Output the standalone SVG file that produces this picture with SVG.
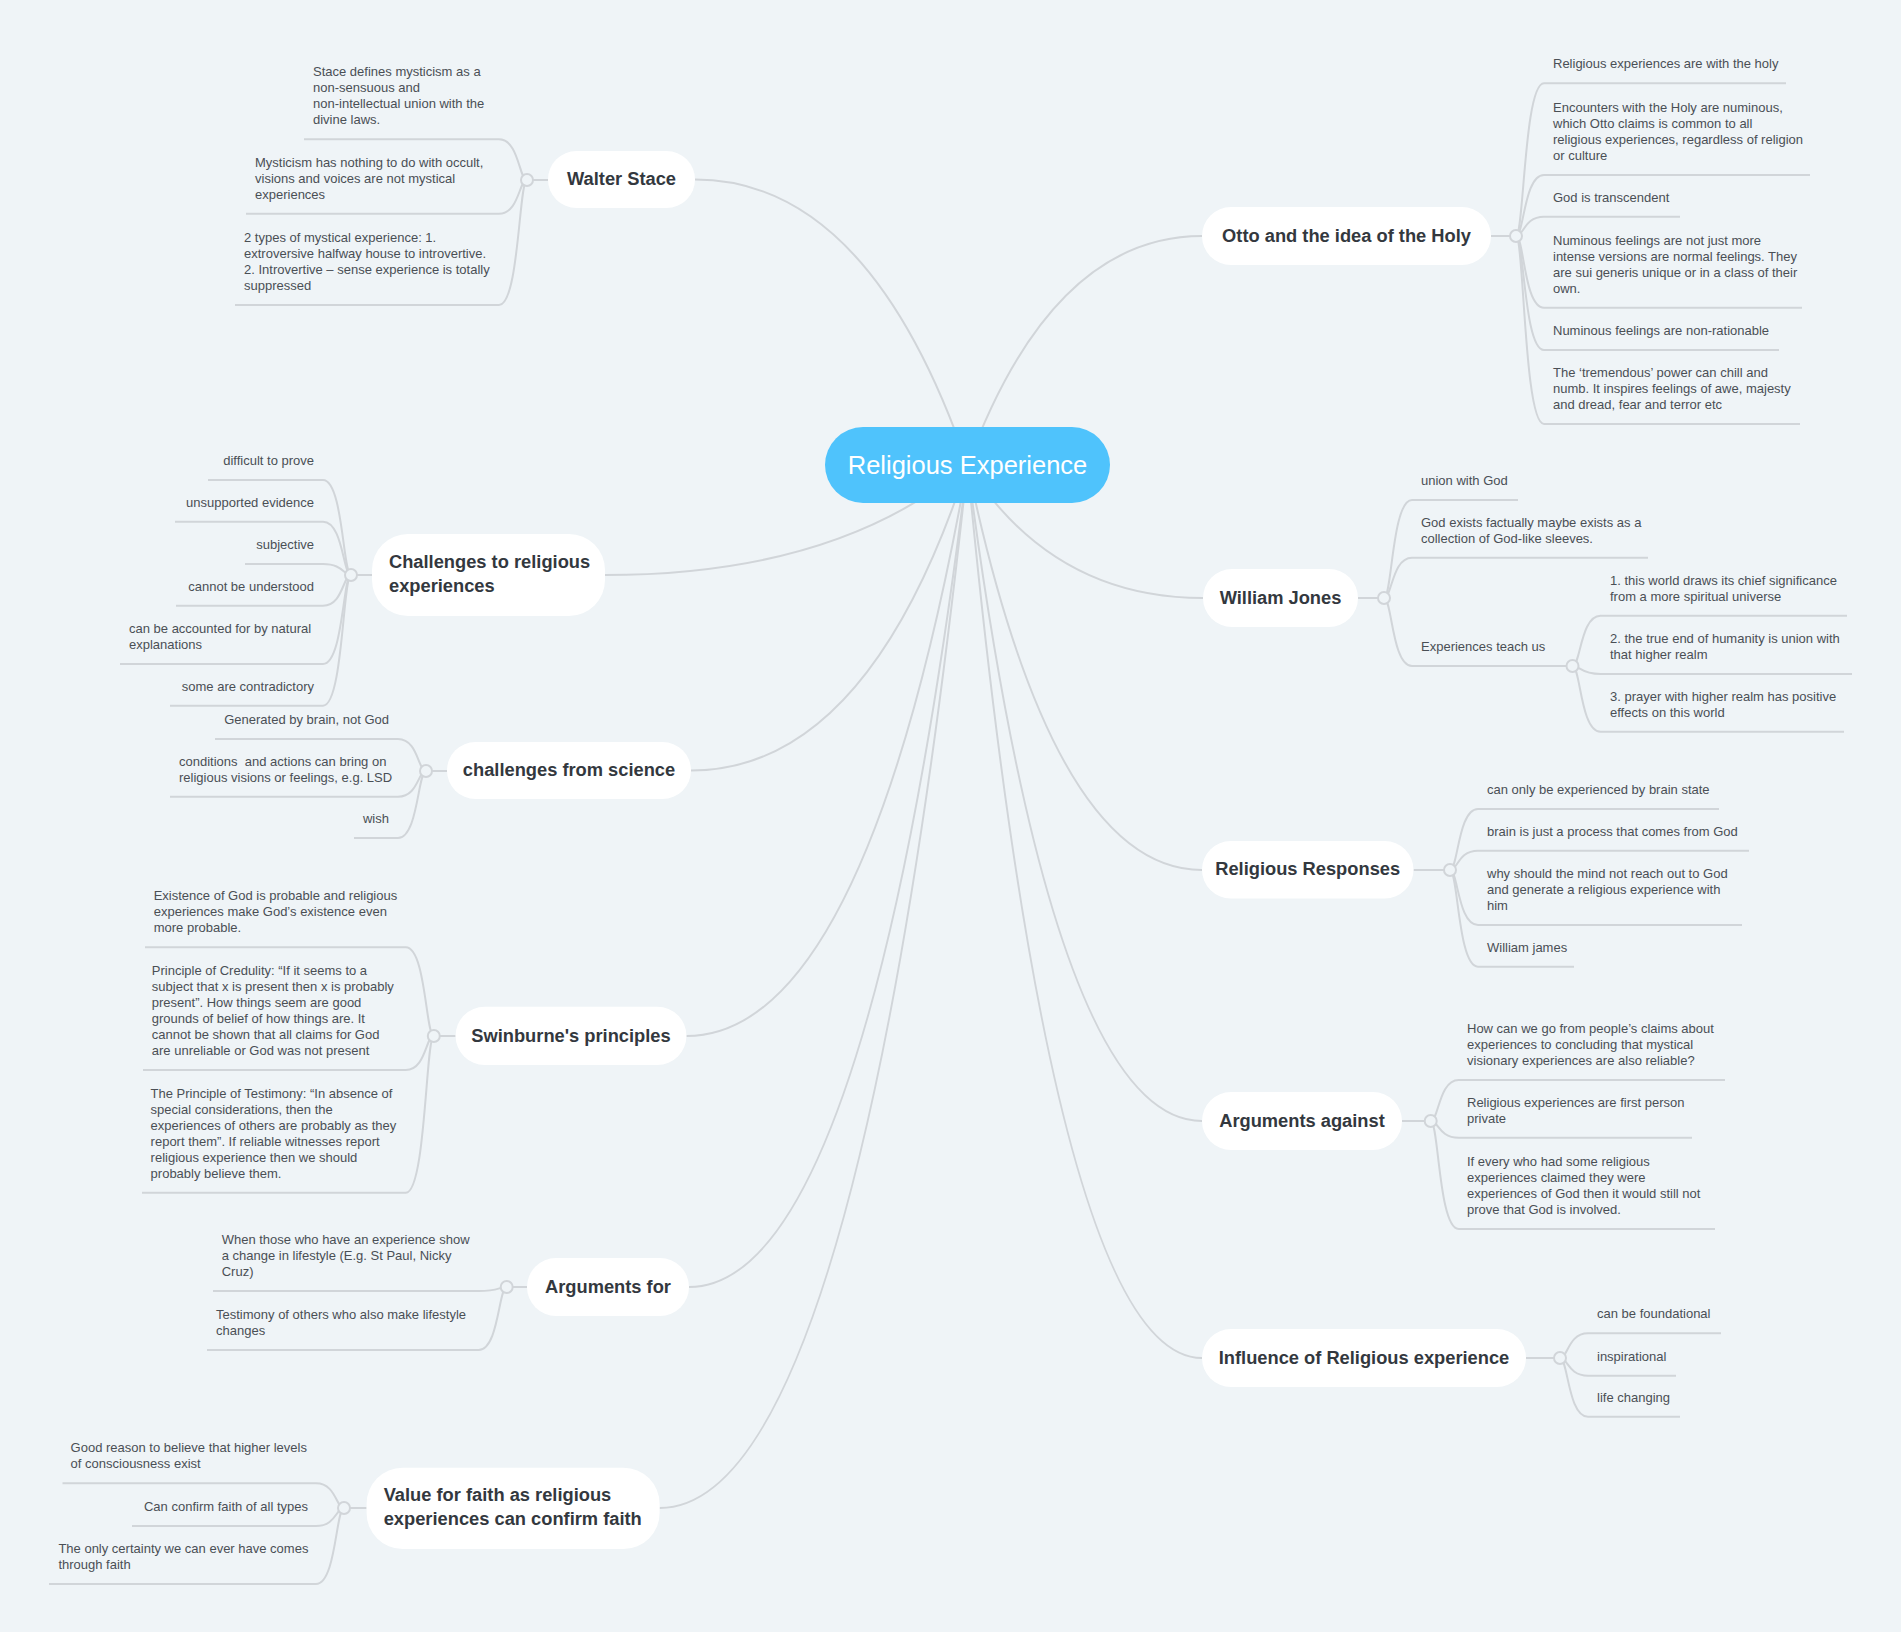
<svg xmlns="http://www.w3.org/2000/svg" width="1901" height="1632" viewBox="0 0 1901 1632">
<style>
.ln{fill:none;stroke:#D1D5D9;stroke-width:2}
.jn{fill:#EFF4F7;stroke:#D1D5D9;stroke-width:2}
.nd{fill:#FFFFFF}
.nt{font-family:"Liberation Sans",Arial,sans-serif;font-weight:700;font-size:18.3px;fill:#33383E;transform:translateY(-1px)}
.ct{font-family:"Liberation Sans",Arial,sans-serif;font-size:13px;fill:#4A4F55;transform:translateY(-0.8px)}
.r{text-anchor:end}
.m{text-anchor:middle}
</style>
<rect width="1901" height="1632" fill="#EFF4F7"/>
<g id="connectors">
<path class="ln" d="M967.5,465 Q869.4,179.5 695,179.5"/>
<path class="ln" d="M967.5,465 Q1051.9,236 1202,236"/>
<path class="ln" d="M967.5,465 Q837,575 605,575"/>
<path class="ln" d="M967.5,465 Q868,770.5 691,770.5"/>
<path class="ln" d="M967.5,465 Q1052.3,598 1203,598"/>
<path class="ln" d="M967.5,465 Q1051.9,870 1202,870"/>
<path class="ln" d="M967.5,465 Q866.3,1036 686.4,1036"/>
<path class="ln" d="M967.5,465 Q1051.9,1121 1202,1121"/>
<path class="ln" d="M967.5,465 Q867.2,1287 689,1287"/>
<path class="ln" d="M967.5,465 Q1051.9,1358 1202,1358"/>
<path class="ln" d="M967.5,465 Q856.7,1508 659.6,1508"/>
<path class="ln" d="M548,180 H527"/>
<path class="ln" d="M1491,236 H1516"/>
<path class="ln" d="M372,575 H351"/>
<path class="ln" d="M447,771 H426"/>
<path class="ln" d="M1358,598 H1384"/>
<path class="ln" d="M1413.5,870 H1450"/>
<path class="ln" d="M455.6,1036 H433.8"/>
<path class="ln" d="M1402,1121 H1430.7"/>
<path class="ln" d="M527,1287 H506.7"/>
<path class="ln" d="M1526,1358 H1560"/>
<path class="ln" d="M366.6,1508 H344"/>
<path class="ln" d="M527,180 C519,180 519,139.3 499,139.3 H304"/>
<path class="ln" d="M527,180 C519,180 519,213.7 499,213.7 H246"/>
<path class="ln" d="M527,180 C519,180 519,305 499,305 H235"/>
<path class="ln" d="M1516,236 C1524,236 1524,83.3 1544,83.3 H1786"/>
<path class="ln" d="M1516,236 C1524,236 1524,175 1544,175 H1810"/>
<path class="ln" d="M1516,236 C1524,236 1524,216.7 1544,216.7 H1680"/>
<path class="ln" d="M1516,236 C1524,236 1524,307.7 1544,307.7 H1802"/>
<path class="ln" d="M1516,236 C1524,236 1524,350 1544,350 H1779"/>
<path class="ln" d="M1516,236 C1524,236 1524,424 1544,424 H1800"/>
<path class="ln" d="M351,575 C343,575 343,480 323,480 H208"/>
<path class="ln" d="M351,575 C343,575 343,521.7 323,521.7 H175"/>
<path class="ln" d="M351,575 C343,575 343,564 323,564 H245"/>
<path class="ln" d="M351,575 C343,575 343,605.7 323,605.7 H176"/>
<path class="ln" d="M351,575 C343,575 343,664 323,664 H120"/>
<path class="ln" d="M351,575 C343,575 343,705.7 323,705.7 H170"/>
<path class="ln" d="M426,771 C418,771 418,739 398,739 H215"/>
<path class="ln" d="M426,771 C418,771 418,796.7 398,796.7 H170"/>
<path class="ln" d="M426,771 C418,771 418,838 398,838 H354"/>
<path class="ln" d="M1384,598 C1392,598 1392,500 1412,500 H1518"/>
<path class="ln" d="M1384,598 C1392,598 1392,557.7 1412,557.7 H1648"/>
<path class="ln" d="M1384,598 C1392,598 1392,666 1412,666 H1572.5"/>
<path class="ln" d="M1572.5,666 C1580.5,666 1580.5,615.7 1600.5,615.7 H1847"/>
<path class="ln" d="M1572.5,666 C1580.5,666 1580.5,674 1600.5,674 H1852"/>
<path class="ln" d="M1572.5,666 C1580.5,666 1580.5,731.7 1600.5,731.7 H1844"/>
<path class="ln" d="M1450,870 C1458,870 1458,809 1478,809 H1719"/>
<path class="ln" d="M1450,870 C1458,870 1458,850.7 1478,850.7 H1749"/>
<path class="ln" d="M1450,870 C1458,870 1458,925 1478,925 H1742"/>
<path class="ln" d="M1450,870 C1458,870 1458,966.7 1478,966.7 H1574"/>
<path class="ln" d="M433.8,1036 C425.8,1036 425.8,947.3 405.8,947.3 H145"/>
<path class="ln" d="M433.8,1036 C425.8,1036 425.8,1070 405.8,1070 H143"/>
<path class="ln" d="M433.8,1036 C425.8,1036 425.8,1192.7 405.8,1192.7 H142"/>
<path class="ln" d="M1430.7,1121 C1438.7,1121 1438.7,1080 1458.7,1080 H1725"/>
<path class="ln" d="M1430.7,1121 C1438.7,1121 1438.7,1137.7 1458.7,1137.7 H1692"/>
<path class="ln" d="M1430.7,1121 C1438.7,1121 1438.7,1229 1458.7,1229 H1715"/>
<path class="ln" d="M506.7,1287 C498.7,1287 498.7,1291 478.7,1291 H213"/>
<path class="ln" d="M506.7,1287 C498.7,1287 498.7,1350 478.7,1350 H207"/>
<path class="ln" d="M1560,1358 C1568,1358 1568,1333.3 1588,1333.3 H1721"/>
<path class="ln" d="M1560,1358 C1568,1358 1568,1375.7 1588,1375.7 H1676"/>
<path class="ln" d="M1560,1358 C1568,1358 1568,1416.7 1588,1416.7 H1680"/>
<path class="ln" d="M344,1508 C336,1508 336,1483.3 316,1483.3 H62.5"/>
<path class="ln" d="M344,1508 C336,1508 336,1526 316,1526 H132"/>
<path class="ln" d="M344,1508 C336,1508 336,1584 316,1584 H49"/>
<circle class="jn" cx="527" cy="180" r="6"/>
<circle class="jn" cx="1516" cy="236" r="6"/>
<circle class="jn" cx="351" cy="575" r="6"/>
<circle class="jn" cx="426" cy="771" r="6"/>
<circle class="jn" cx="1384" cy="598" r="6"/>
<circle class="jn" cx="1572.5" cy="666" r="6"/>
<circle class="jn" cx="1450" cy="870" r="6"/>
<circle class="jn" cx="433.8" cy="1036" r="6"/>
<circle class="jn" cx="1430.7" cy="1121" r="6"/>
<circle class="jn" cx="506.7" cy="1287" r="6"/>
<circle class="jn" cx="1560" cy="1358" r="6"/>
<circle class="jn" cx="344" cy="1508" r="6"/>
</g>
<g id="root">
<rect x="825" y="427" width="285" height="76" rx="38" fill="#4FC3FC"/>
<text x="967.5" y="474" class="m" font-family="Liberation Sans, Arial, sans-serif" font-size="25.5" fill="#FFFFFF">Religious Experience</text>
</g>
<g id="walter-stace">
<rect class="nd" x="548" y="151" width="147" height="57" rx="28.5"/>
<text class="nt m" x="621.5" y="186">Walter Stace</text>
</g>
<g id="walter-stace-children">
<text class="ct" y="77.3"><tspan x="313">Stace defines mysticism as a</tspan><tspan x="313" dy="16">non-sensuous and</tspan><tspan x="313" dy="16">non-intellectual union with the</tspan><tspan x="313" dy="16">divine laws.</tspan></text>
<text class="ct" y="167.7"><tspan x="255">Mysticism has nothing to do with occult,</tspan><tspan x="255" dy="16">visions and voices are not mystical</tspan><tspan x="255" dy="16">experiences</tspan></text>
<text class="ct" y="243"><tspan x="244">2 types of mystical experience: 1.</tspan><tspan x="244" dy="16">extroversive halfway house to introvertive.</tspan><tspan x="244" dy="16">2. Introvertive – sense experience is totally</tspan><tspan x="244" dy="16">suppressed</tspan></text>
</g>
<g id="otto">
<rect class="nd" x="1202" y="207" width="289" height="58" rx="29"/>
<text class="nt m" x="1346.5" y="242.5">Otto and the idea of the Holy</text>
</g>
<g id="otto-children">
<text class="ct" x="1553" y="69.3">Religious experiences are with the holy</text>
<text class="ct" y="113"><tspan x="1553">Encounters with the Holy are numinous,</tspan><tspan x="1553" dy="16">which Otto claims is common to all</tspan><tspan x="1553" dy="16">religious experiences, regardless of religion</tspan><tspan x="1553" dy="16">or culture</tspan></text>
<text class="ct" x="1553" y="202.7">God is transcendent</text>
<text class="ct" y="245.7"><tspan x="1553">Numinous feelings are not just more</tspan><tspan x="1553" dy="16">intense versions are normal feelings. They</tspan><tspan x="1553" dy="16">are sui generis unique or in a class of their</tspan><tspan x="1553" dy="16">own.</tspan></text>
<text class="ct" x="1553" y="336">Numinous feelings are non-rationable</text>
<text class="ct" y="378"><tspan x="1553">The ‘tremendous’ power can chill and</tspan><tspan x="1553" dy="16">numb. It inspires feelings of awe, majesty</tspan><tspan x="1553" dy="16">and dread, fear and terror etc</tspan></text>
</g>
<g id="challenges">
<rect class="nd" x="372" y="534" width="233" height="82" rx="36"/>
<text class="nt" y="569"><tspan x="389">Challenges to religious</tspan><tspan x="389" dy="24">experiences</tspan></text>
</g>
<g id="challenges-children">
<text class="ct r" x="314" y="466">difficult to prove</text>
<text class="ct r" x="314" y="507.7">unsupported evidence</text>
<text class="ct r" x="314" y="550">subjective</text>
<text class="ct r" x="314" y="591.7">cannot be understood</text>
<text class="ct" y="634"><tspan x="129">can be accounted for by natural</tspan><tspan x="129" dy="16">explanations</tspan></text>
<text class="ct r" x="314" y="691.7">some are contradictory</text>
</g>
<g id="science">
<rect class="nd" x="447" y="742" width="244" height="57" rx="28.5"/>
<text class="nt m" x="569" y="777">challenges from science</text>
</g>
<g id="science-children">
<text class="ct r" x="389" y="725">Generated by brain, not God</text>
<text class="ct" y="766.7" xml:space="preserve"><tspan x="179">conditions  and actions can bring on</tspan><tspan x="179" dy="16">religious visions or feelings, e.g. LSD</tspan></text>
<text class="ct r" x="389" y="824">wish</text>
</g>
<g id="william-jones">
<rect class="nd" x="1203" y="569" width="155" height="58" rx="29"/>
<text class="nt m" x="1280.5" y="604.5">William Jones</text>
</g>
<g id="william-jones-children">
<text class="ct" x="1421" y="486">union with God</text>
<text class="ct" y="527.7"><tspan x="1421">God exists factually maybe exists as a</tspan><tspan x="1421" dy="16">collection of God-like sleeves.</tspan></text>
<text class="ct" x="1421" y="652">Experiences teach us</text>
<text class="ct" y="585.7"><tspan x="1610">1. this world draws its chief significance</tspan><tspan x="1610" dy="16">from a more spiritual universe</tspan></text>
<text class="ct" y="644"><tspan x="1610">2. the true end of humanity is union with</tspan><tspan x="1610" dy="16">that higher realm</tspan></text>
<text class="ct" y="701.7"><tspan x="1610">3. prayer with higher realm has positive</tspan><tspan x="1610" dy="16">effects on this world</tspan></text>
</g>
<g id="religious-responses">
<rect class="nd" x="1202" y="841" width="211.5" height="57.5" rx="28.7"/>
<text class="nt m" x="1307.7" y="876.2">Religious Responses</text>
</g>
<g id="religious-responses-children">
<text class="ct" x="1487" y="795">can only be experienced by brain state</text>
<text class="ct" x="1487" y="836.7">brain is just a process that comes from God</text>
<text class="ct" y="879"><tspan x="1487">why should the mind not reach out to God</tspan><tspan x="1487" dy="16">and generate a religious experience with</tspan><tspan x="1487" dy="16">him</tspan></text>
<text class="ct" x="1487" y="952.7">William james</text>
</g>
<g id="swinburne">
<rect class="nd" x="455.6" y="1006.7" width="230.8" height="58.3" rx="29"/>
<text class="nt m" x="571" y="1042.5">Swinburne's principles</text>
</g>
<g id="swinburne-children">
<text class="ct" y="901.3"><tspan x="153.7">Existence of God is probable and religious</tspan><tspan x="153.7" dy="16">experiences make God’s existence even</tspan><tspan x="153.7" dy="16">more probable.</tspan></text>
<text class="ct" y="976"><tspan x="151.8">Principle of Credulity: “If it seems to a</tspan><tspan x="151.8" dy="16">subject that x is present then x is probably</tspan><tspan x="151.8" dy="16">present”. How things seem are good</tspan><tspan x="151.8" dy="16">grounds of belief of how things are. It</tspan><tspan x="151.8" dy="16">cannot be shown that all claims for God</tspan><tspan x="151.8" dy="16">are unreliable or God was not present</tspan></text>
<text class="ct" y="1098.7"><tspan x="150.6">The Principle of Testimony: “In absence of</tspan><tspan x="150.6" dy="16">special considerations, then the</tspan><tspan x="150.6" dy="16">experiences of others are probably as they</tspan><tspan x="150.6" dy="16">report them”. If reliable witnesses report</tspan><tspan x="150.6" dy="16">religious experience then we should</tspan><tspan x="150.6" dy="16">probably believe them.</tspan></text>
</g>
<g id="arguments-against">
<rect class="nd" x="1202" y="1092" width="200" height="58" rx="29"/>
<text class="nt m" x="1302" y="1127.5">Arguments against</text>
</g>
<g id="arguments-against-children">
<text class="ct" y="1034"><tspan x="1467">How can we go from people’s claims about</tspan><tspan x="1467" dy="16">experiences to concluding that mystical</tspan><tspan x="1467" dy="16">visionary experiences are also reliable?</tspan></text>
<text class="ct" y="1107.7"><tspan x="1467">Religious experiences are first person</tspan><tspan x="1467" dy="16">private</tspan></text>
<text class="ct" y="1167"><tspan x="1467">If every who had some religious</tspan><tspan x="1467" dy="16">experiences claimed they were</tspan><tspan x="1467" dy="16">experiences of God then it would still not</tspan><tspan x="1467" dy="16">prove that God is involved.</tspan></text>
</g>
<g id="arguments-for">
<rect class="nd" x="527" y="1258" width="162" height="58" rx="29"/>
<text class="nt m" x="608" y="1293.5">Arguments for</text>
</g>
<g id="arguments-for-children">
<text class="ct" y="1245"><tspan x="221.7">When those who have an experience show</tspan><tspan x="221.7" dy="16">a change in lifestyle (E.g. St Paul, Nicky</tspan><tspan x="221.7" dy="16">Cruz)</tspan></text>
<text class="ct" y="1320"><tspan x="216">Testimony of others who also make lifestyle</tspan><tspan x="216" dy="16">changes</tspan></text>
</g>
<g id="influence">
<rect class="nd" x="1202" y="1329" width="324" height="58" rx="29"/>
<text class="nt m" x="1364" y="1364.5">Influence of Religious experience</text>
</g>
<g id="influence-children">
<text class="ct" x="1597" y="1319.3">can be foundational</text>
<text class="ct" x="1597" y="1361.7">inspirational</text>
<text class="ct" x="1597" y="1402.7">life changing</text>
</g>
<g id="value-for-faith">
<rect class="nd" x="366.6" y="1467.7" width="293" height="81.3" rx="36"/>
<text class="nt" y="1502"><tspan x="383.7">Value for faith as religious</tspan><tspan x="383.7" dy="24">experiences can confirm faith</tspan></text>
</g>
<g id="value-for-faith-children">
<text class="ct" y="1453.3"><tspan x="70.6">Good reason to believe that higher levels</tspan><tspan x="70.6" dy="16">of consciousness exist</tspan></text>
<text class="ct r" x="308" y="1512">Can confirm faith of all types</text>
<text class="ct" y="1554"><tspan x="58.4">The only certainty we can ever have comes</tspan><tspan x="58.4" dy="16">through faith</tspan></text>
</g>
</svg>
